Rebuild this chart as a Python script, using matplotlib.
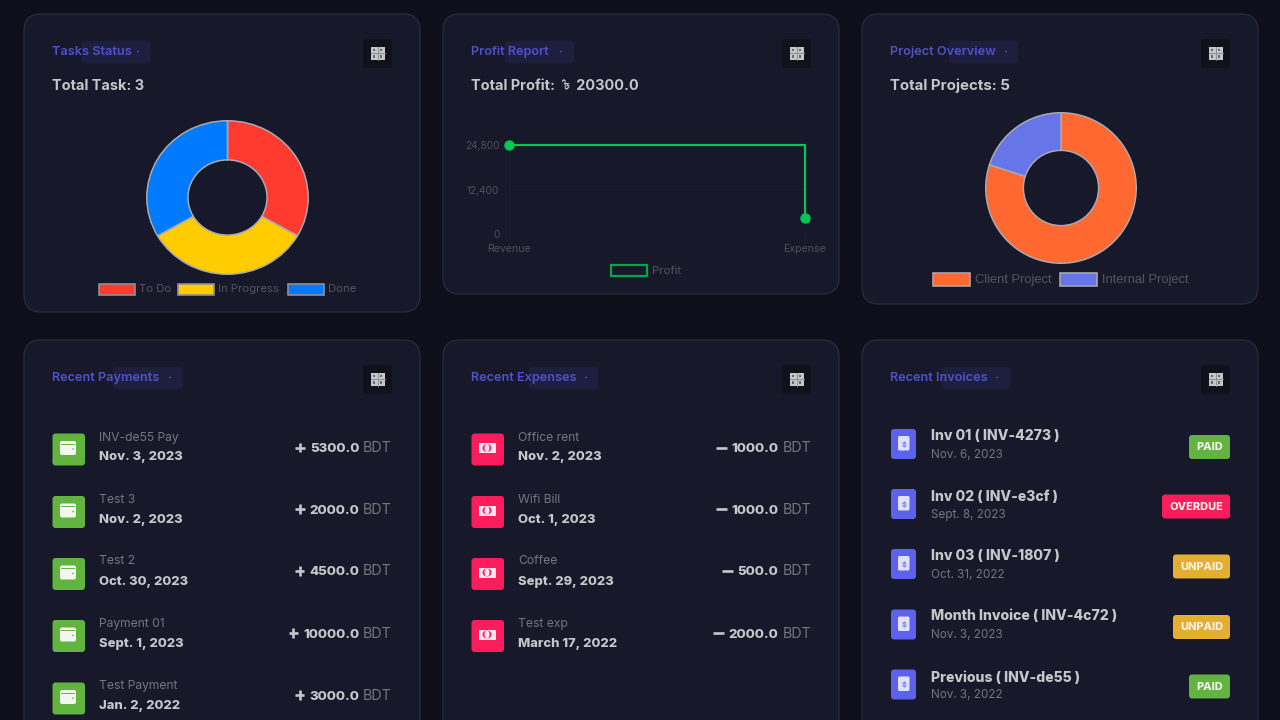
import matplotlib
matplotlib.use("Agg")
import matplotlib.pyplot as plt
from matplotlib import font_manager
from matplotlib.ft2font import FT2Font
from matplotlib.patches import FancyBboxPatch, Rectangle, Circle, Ellipse

BODY = "#0f0f1c"
CARD = "#171829"
EDGE = "#282939"
PILL = "#1e1f3f"
BLUE = "#4d52cc"
SOFT = "#c6c6ca"
MUTED = "#75757f"
DIM = "#55555f"

plt.rcParams["font.family"] = ["Inter", "Noto Sans", "DejaVu Sans"]

# chart data
task_labels = ["To Do", "In Progress", "Done"]
task_values = [1, 1, 1]
task_colors = ["#ff3b30", "#ffcc00", "#007aff"]

profit_labels = ["Revenue", "Expense"]
profit_values = [24800, 4500]
profit_ticks = [0, 12400, 24800]

project_labels = ["Client Project", "Internal Project"]
project_values = [4, 1]
project_colors = ["#ff6830", "#6675e8"]

# lists
pay_names = ["INV-de55 Pay", "Test 3", "Test 2", "Payment 01", "Test Payment"]
pay_dates = ["Nov. 3, 2023", "Nov. 2, 2023", "Oct. 30, 2023", "Sept. 1, 2023", "Jan. 2, 2022"]
pay_amounts = ["5300.0", "2000.0", "4500.0", "10000.0", "3000.0"]

exp_names = ["Office rent", "Wifi Bill", "Coffee", "Test exp"]
exp_dates = ["Nov. 2, 2023", "Oct. 1, 2023", "Sept. 29, 2023", "March 17, 2022"]
exp_amounts = ["1000.0", "1000.0", "500.0", "2000.0"]

inv_names = ["Inv 01 ( INV-4273 )", "Inv 02 ( INV-e3cf )", "Inv 03 ( INV-1807 )",
             "Month Invoice ( INV-4c72 )", "Previous ( INV-de55 )"]
inv_dates = ["Nov. 6, 2023", "Sept. 8, 2023", "Oct. 31, 2022", "Nov. 3, 2023", "Nov. 3, 2022"]
inv_status = ["PAID", "OVERDUE", "UNPAID", "UNPAID", "PAID"]
status_colors = {"PAID": "#62b340", "OVERDUE": "#fb1c5c", "UNPAID": "#e4ae30"}
status_left = {"PAID": 1189, "OVERDUE": 1162, "UNPAID": 1173}

fig = plt.figure(figsize=(12.8, 7.2), dpi=100, facecolor=BODY)
bg = fig.add_axes([0, 0, 1, 1])
bg.set_xlim(0, 1280)
bg.set_ylim(720, 0)
bg.axis("off")
renderer = fig.canvas.get_renderer()


def find_family(ch):
    # look for an installed font that really has the glyph
    for f in font_manager.fontManager.ttflist:
        try:
            if ord(ch) in FT2Font(f.fname).get_charmap():
                return f.name
        except Exception:
            pass
    return "DejaVu Sans"


def px_axes(x0, y0, x1, y1):
    return fig.add_axes([x0 / 1280, 1 - y1 / 720, (x1 - x0) / 1280, (y1 - y0) / 720])


def rbox(x0, y0, x1, y1, r, fc, ec="none", lw=0, z=1):
    bg.add_patch(FancyBboxPatch((x0, y0), x1 - x0, y1 - y0, boxstyle=f"round,pad=0,rounding_size={r}",
                                fc=fc, ec=ec, lw=lw, zorder=z))


def txt(x, y, s, size, color, weight="normal", ha="left", **kw):
    return bg.text(x, y + 1, s, fontsize=size * 0.72, color=color, fontweight=weight, ha=ha, va="center",
                   zorder=5, **kw)


def card(x0, y0, x1, y1, title, pill_x, dot_x):
    rbox(x0, y0, x1, y1, 17, CARD, EDGE, 1.0)
    rbox(pill_x, y0 + 27, pill_x + 69, y0 + 49, 3, PILL, z=2)
    txt(x0 + 28, y0 + 37, title, 12.7, BLUE, "semibold")
    bg.add_patch(Circle((dot_x, y0 + 37.5), 0.9, fc=BLUE, zorder=5))
    # grid button in the corner
    bx = x1 - 57
    rbox(bx, y0 + 25, bx + 29, y0 + 54, 3, "#11111b", z=2)
    bg.add_patch(Rectangle((bx + 7.5, y0 + 32.5), 14, 13.5, fc="#c6c6c8", zorder=3))
    bg.plot([bx + 7.5, bx + 21.5], [y0 + 39.2, y0 + 39.2], color="#8f8f96", lw=0.7, zorder=4)
    bg.plot([bx + 14.5, bx + 14.5], [y0 + 32.5, y0 + 46], color="#8f8f96", lw=0.7, zorder=4)
    for dx in (9.7, 16.7):
        for dy in (34.8, 41.3):
            bg.add_patch(Rectangle((bx + dx, y0 + dy), 2.6, 2.4, fc="#6a6a72", zorder=4))


def donut(cx, cy, rx, ry, values, colors, hole):
    ax = px_axes(cx - rx, cy - ry, cx + rx, cy + ry)
    ax.pie(values, colors=colors, startangle=90, counterclock=False, radius=1,
           wedgeprops=dict(width=1 - hole, edgecolor="#a9a9b0", linewidth=1.1))
    ax.set_aspect("auto")
    ax.set_xlim(-1.01, 1.01)
    ax.set_ylim(-1.01, 1.01)
    ax.patch.set_visible(False)
    for w in ax.patches:
        w.set_clip_on(False)


def swatch(x0, x1, y0, y1, fc, ec, lw=1.2):
    bg.add_patch(Rectangle((x0, y0), x1 - x0, y1 - y0, fc=fc, ec=ec, lw=lw, zorder=3))


def amount(right, y, sign, value):
    t = txt(right, y + 0.5, value, 13.3, SOFT, 800, ha="right")
    w = t.get_window_extent(renderer).width
    cx = right - w - 10
    half = 4.8 if sign == "+" else 5.5
    bg.plot([cx - half, cx + half], [y, y], color=SOFT, lw=1.9, zorder=5, solid_capstyle="butt")
    if sign == "+":
        bg.plot([cx, cx], [y - half, y + half], color=SOFT, lw=1.9, zorder=5, solid_capstyle="butt")


# top row
card(24, 14, 420, 312, "Tasks Status", 81.5, 138)
card(443, 14, 839, 294, "Profit Report", 505, 561)
card(862, 14, 1258, 304, "Project Overview", 949, 1006)
txt(52, 85, "Total Task: 3", 14.5, SOFT, "bold")
txt(890, 85, "Total Projects: 5", 15, SOFT, "bold")
txt(471, 85, "Total Profit: ৳ 20300.0", 14.5, SOFT, "bold",
    family=["Inter", find_family("৳"), "DejaVu Sans"])

# tasks donut
donut(227.5, 197.5, 81.5, 77.5, task_values, task_colors, 0.49)
for lab, col, sx, tx in zip(task_labels, task_colors, [98.5, 177.5, 287.5], [139, 218, 328]):
    swatch(sx, sx + 36, 283.5, 294.5, col, "#8f8f96")
    txt(tx, 288, lab, 11.3, DIM)

# profit line
ax = px_axes(509, 145, 805, 234)
ax.plot(profit_labels, profit_values, color="#00c853", lw=1.6, drawstyle="steps-post",
        marker="o", ms=6.5, mec="#00c853", mfc="#00c853", clip_on=False, zorder=5)
ax.set_xlim(0, 1)
ax.set_ylim(0, 24800)
ax.patch.set_visible(False)
ax.set_yticks(profit_ticks)
ax.set_yticklabels([f"{v:,}" for v in profit_ticks])
ax.tick_params(axis="y", length=0, labelsize=7.3, labelcolor="#50505a", pad=7)
ax.tick_params(axis="x", length=5.8, color="#1d1e2e", width=0.8, labelsize=7.6, labelcolor="#50505a", pad=1.5)
ax.grid(color="#1c1d2e", lw=0.8)
for s in ax.spines.values():
    s.set_visible(False)
swatch(611, 647, 265, 276, "none", "#00a84a", 1.6)
txt(652, 269.5, "Profit", 11.3, DIM)

# projects donut
donut(1061, 188, 76, 76, project_values, project_colors, 0.5)
for lab, col, sx, tx in zip(project_labels, project_colors, [933, 1060], [975, 1102]):
    swatch(sx, sx + 37, 273, 286, col, "#a5a5ad")
    txt(tx, 278.5, lab, 12.9, DIM, family=["Liberation Sans", "DejaVu Sans"])

# bottom row
card(24, 340, 420, 790, "Recent Payments", 113.5, 170)
card(443, 340, 839, 790, "Recent Expenses", 529, 586)
card(862, 340, 1258, 790, "Recent Invoices", 941.5, 997)

icon_y = [449.5, 512, 574, 636, 698.5]
name_y = [437, 499, 560.5, 623.5, 685]
date_y = [456, 519, 580.5, 643.5, 705]
amt_y = [447.5, 509, 570.7, 633, 695]

for n, d, a_, iy, ny, dy, ay in zip(pay_names, pay_dates, pay_amounts, icon_y, name_y, date_y, amt_y):
    rbox(52.5, iy - 16, 85, iy + 16, 3, "#62b340", z=2)
    rbox(60, iy - 8.5, 76, iy + 5.5, 2, "#f2f6ee", z=3)
    bg.plot([61, 74], [iy - 6, iy - 6], color="#62b340", lw=0.7, zorder=4)
    bg.add_patch(Circle((73, iy - 0.5), 0.8, fc="#62b340", zorder=4))
    txt(99, ny, n, 12.1, MUTED)
    txt(99, dy, d, 13, SOFT, 800)
    txt(392, ay - 0.5, "BDT", 14.3, MUTED, ha="right")
    amount(359.5, ay, "+", a_)

for n, d, a_, iy, ny, dy, ay in zip(exp_names, exp_dates, exp_amounts, icon_y, name_y, date_y, amt_y):
    rbox(471.5, iy - 16, 504, iy + 16, 3, "#fb1c5c", z=2)
    bg.add_patch(Rectangle((478.5, iy - 6.5), 17, 10, fc="#f8e6ec", zorder=3))
    bg.add_patch(Ellipse((487, iy - 1.5), 9, 8, fc="#fb1c5c", zorder=4))
    bg.add_patch(Ellipse((487, iy - 1.5), 5, 8, fc="#f8e6ec", zorder=4))
    txt(518, ny, n, 12.1, MUTED)
    txt(518, dy, d, 13, SOFT, 800)
    txt(811, ay - 0.5, "BDT", 14.3, MUTED, ha="right")
    amount(778.5, ay, "−", a_)

inv_icon_y = [444, 504, 564, 624.5, 684.5]
inv_name_y = [435.5, 496, 555.5, 615.5, 676.5]
inv_date_y = [454, 514, 574, 634.5, 694]
badge_y = [447, 506.5, 566.5, 627, 686.5]

for n, d, st, iy, ny, dy, by in zip(inv_names, inv_dates, inv_status, inv_icon_y, inv_name_y, inv_date_y, badge_y):
    rbox(891, iy - 15, 916, iy + 15, 3, "#5c62ec", z=2)
    rbox(898, iy - 8, 909.5, iy + 6.5, 1.5, "#e0e1fb", z=3)
    txt(903.7, iy - 0.5, "$", 7.5, "#7a7fee", "bold", ha="center")
    txt(931, ny, n, 14, SOFT, 800)
    txt(931, dy, d, 11.7, MUTED)
    left = status_left[st]
    rbox(left, by - 12, 1230, by + 12, 3, status_colors[st], z=2)
    txt((left + 1230) / 2, by - 1, st, 11, "#f1f1ea", "heavy", ha="center")

fig.savefig("out.png", dpi=100, facecolor=BODY)
